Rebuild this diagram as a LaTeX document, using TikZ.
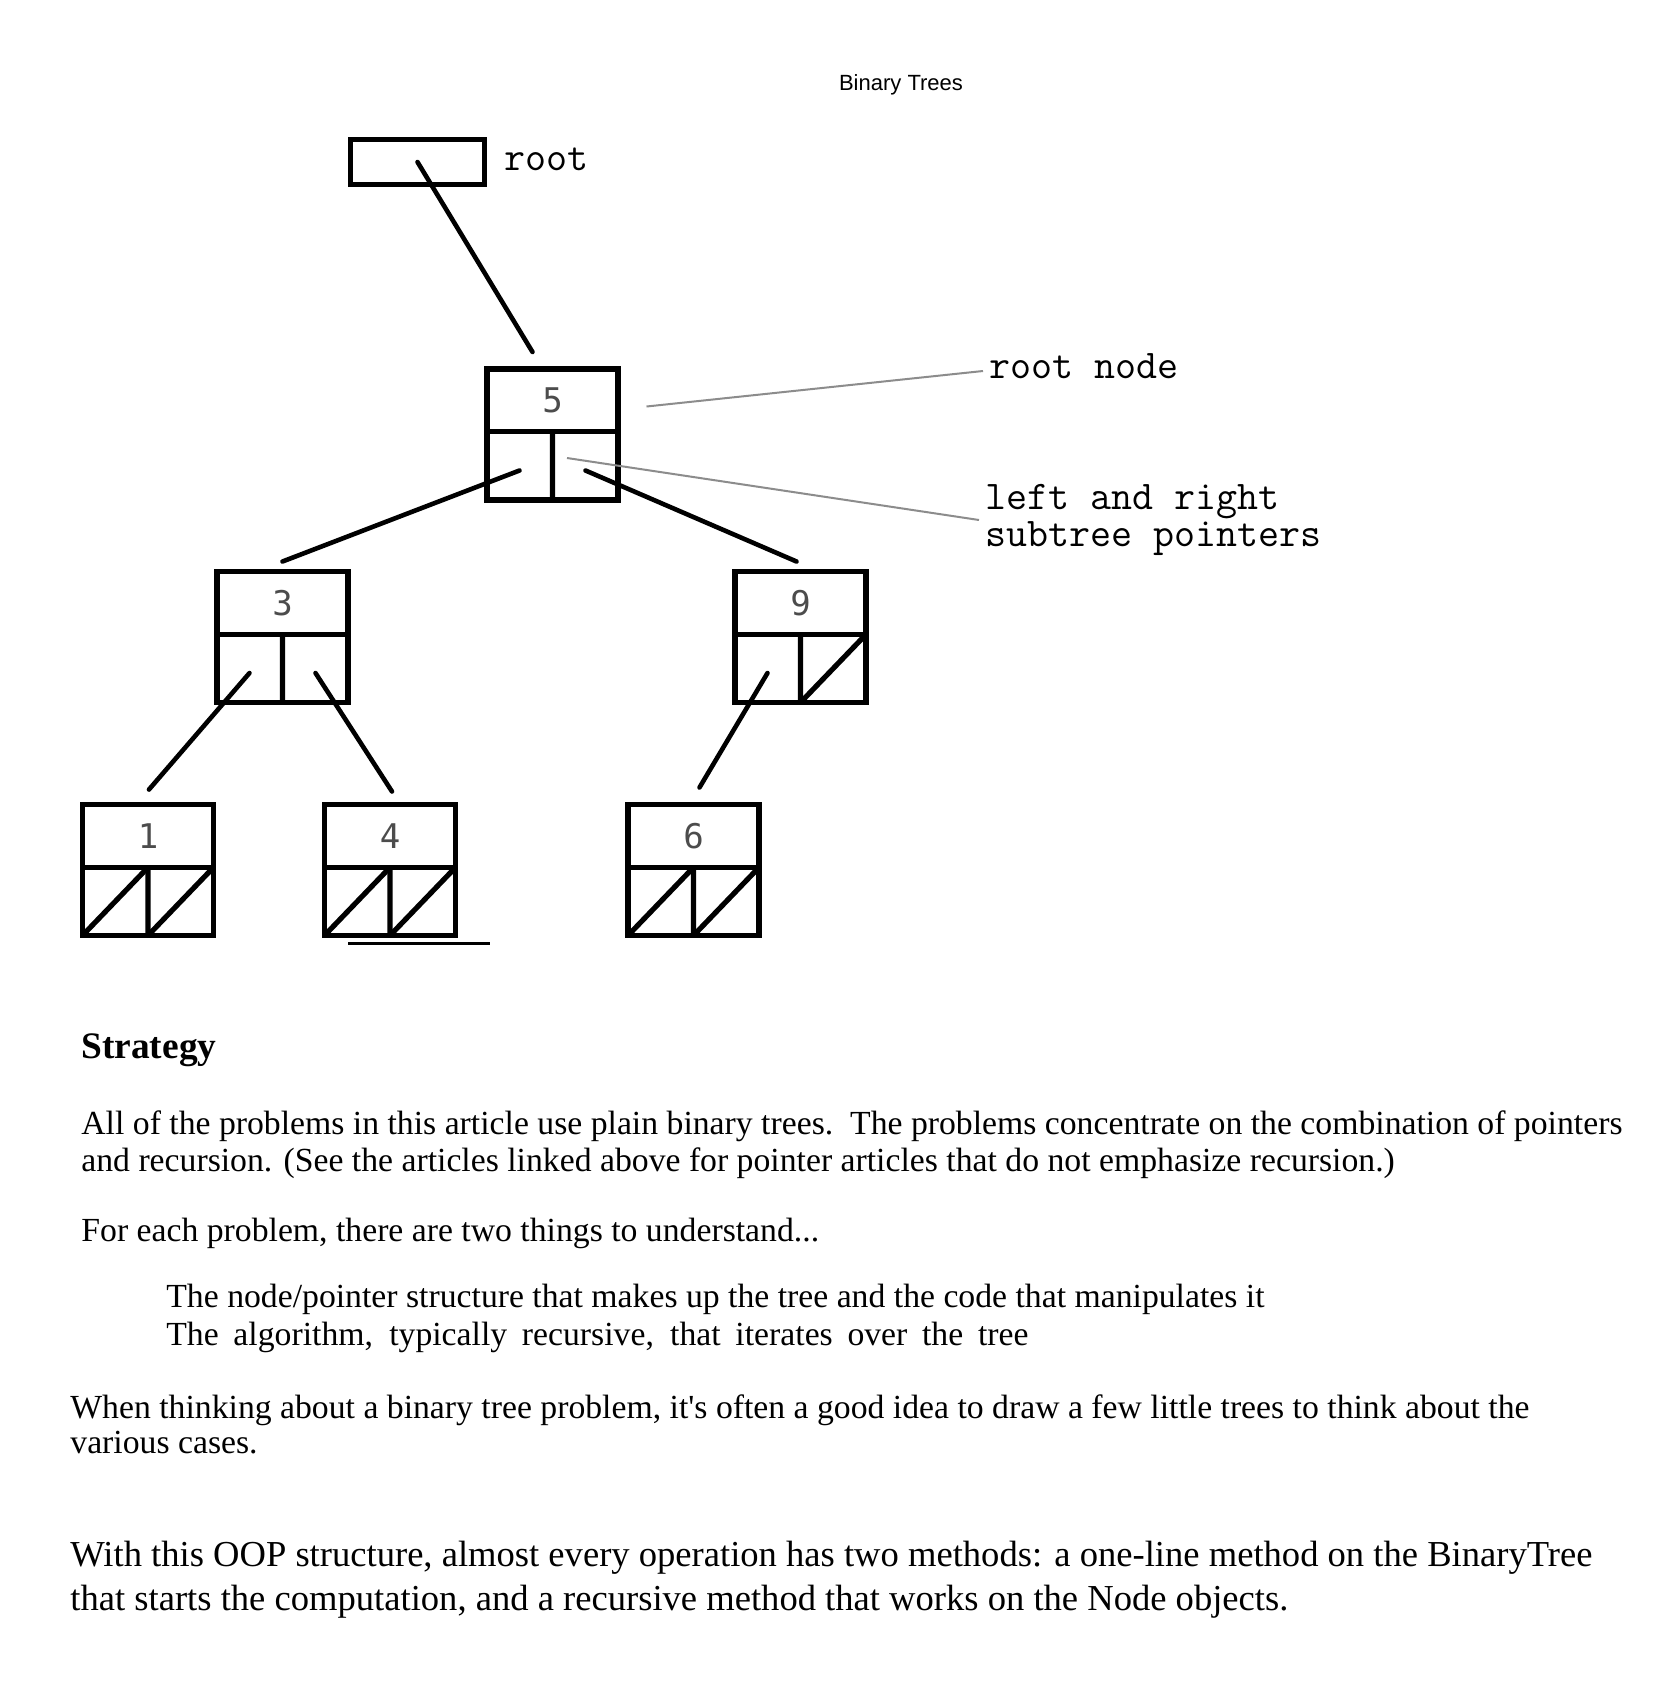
\documentclass[tikz,border=0pt]{standalone}
\usepackage[T1]{fontenc}
\usepackage{fontspec}
\newfontfamily\headfont{Liberation Sans}
\newfontfamily\digitfont{DejaVu Sans Mono}
\IfFileExists{pplr8t.tfm}
  {\newcommand{\palfont}{\fontencoding{T1}\fontfamily{ppl}\selectfont}}
  {\newfontfamily\palfont{Liberation Serif}}
\usetikzlibrary{positioning,calc}

% tree node: name, position, value
\newcommand{\bnode}[3]{%
  \node[cellbox] (#1) at (#2) {};
  \draw[divider] ($(#1.north west)!0.48!(#1.south west)$) coordinate (#1-w)
    -- ($(#1.north east)!0.48!(#1.south east)$) coordinate (#1-e);
  \draw[divider] ($(#1-w)!0.5!(#1-e)$) coordinate (#1-m) -- (#1.south);
  \node[digit] (#1-v) at ($(#1.north)!0.5!(#1-m)$) {#3};
  \coordinate (#1-l) at ([shift={(-33,36)}]#1.center);
  \coordinate (#1-r) at ([shift={(33,36)}]#1.center);
}
% empty subtree slashes
\newcommand{\nulleft}[1]{\draw[divider] (#1.south west) -- (#1-m);}
\newcommand{\nulright}[1]{\draw[divider] (#1.south) -- (#1-e);}

\newcommand{\lineA}{All of the problems in this article use plain binary trees.\ \ The problems concentrate on the combination of pointers}
\newcommand{\lineB}{With this OOP structure, almost every operation has two methods: a one-line method on the BinaryTree}

% font sizes from the printed line widths
\newsavebox{\probe}
\newcommand{\fitsize}[4]{% macro, font, text, target width (pt x 10)
  \sbox{\probe}{#2\fontsize{10pt}{12pt}\selectfont #3}%
  \pgfmathsetmacro{\tmpsize}{#4/\wd\probe}%
  \xdef#1{\tmpsize}}
\AtBeginDocument{%
  \fitsize{\bodysize}{\palfont}{\lineA}{7705}%
  \fitsize{\bigsize}{\palfont}{\lineB}{7610}%
  \fitsize{\headsize}{\palfont\bfseries}{Strategy}{675}}

\begin{document}
\begin{tikzpicture}[
  x=0.5pt, y=-0.5pt,
  cellbox/.style={draw, line width=2.6pt, minimum width=65.5pt,
    minimum height=65.5pt, inner sep=0pt, outer sep=0pt},
  rootbox/.style={draw, line width=2.6pt, minimum width=67pt,
    minimum height=22.5pt, inner sep=0pt, outer sep=0pt},
  divider/.style={line width=2.6pt},
  link/.style={line width=2.3pt, line cap=round},
  leader/.style={black!45, line width=1pt},
  digit/.style={font=\digitfont\fontsize{17pt}{17pt}\selectfont,
    text=black!70, inner sep=0pt},
  mono/.style={font=\ttfamily\fontsize{20.4pt}{18.6pt}\selectfont,
    inner sep=0pt, inner xsep=3pt},
  body/.style={font=\palfont\fontsize{\bodysize}{\bodysize}\selectfont,
    anchor=base west, inner sep=0pt},
  big/.style={font=\palfont\fontsize{\bigsize}{\bigsize}\selectfont,
    anchor=base west, inner sep=0pt},
  head/.style={font=\palfont\bfseries\fontsize{\headsize}{\headsize}\selectfont,
    anchor=base west, inner sep=0pt},
]
\fill[white] (0,0) rectangle (1664,1688);
\useasboundingbox (0,0) rectangle (1664,1688);

\node[font=\headfont\fontsize{11pt}{13pt}\selectfont] (title) at (901,85) {Binary Trees};

%% --- tree ----------------------------------------------------------
\node[rootbox] (root) at (417.5,162) {};
\node[mono, anchor=base west] (rootlbl) at (498,170) {root};

\bnode{n5}{552.5,434.5}{5}
\bnode{n3}{282.5,637}{3}
\bnode{n9}{800.5,637}{9}
\bnode{n1}{148,870}{1}
\bnode{n4}{390,870}{4}
\bnode{n6}{693.5,870}{6}

\nulright{n9}
\nulleft{n1} \nulright{n1}
\nulleft{n4} \nulright{n4}
\nulleft{n6} \nulright{n6}

\draw[link] (root.center) -- ([shift={(-20,-17)}]n5.north);
\draw[link] (n5-l) -- ([shift={(0,-10)}]n3.north);
\draw[link] (n5-r) -- ([shift={(-4,-10)}]n9.north);
\draw[link] (n3-l) -- ([shift={(1,-15)}]n1.north);
\draw[link] (n3-r) -- ([shift={(2,-13)}]n4.north);
\draw[link] (n9-l) -- ([shift={(6,-17)}]n6.north);

\draw[line width=1.5pt] ([shift={(-42,73)}]n4.center) -- ++(142,0);

%% --- labels --------------------------------------------------------
\node[mono, anchor=base west] (nodelbl) at (983,378) {root node};
\node[mono, anchor=west, align=left] (ptrlbl) at (979,520)
  {left and right\\subtree pointers};

\coordinate (n5-top) at ([shift={(94,-28)}]n5.center);
\coordinate (n5-ptr) at ([shift={(14.5,23.5)}]n5.center);
\draw[leader] (n5-top) -- ([yshift=3.5pt]nodelbl.base west);
\draw[leader] (n5-ptr) -- (ptrlbl.west);

%% --- text ----------------------------------------------------------
\node[head] (strat) at (81,1058) {Strategy};
\node[body] (p1a) at (81,1134) {\lineA};
\node[body] (p1b) at (81,1171) {and recursion. (See the articles linked above for pointer articles that do not emphasize recursion.)};
\node[body] (p2) at (81,1241) {For each problem, there are two things to understand...};
\node[body] (p3a) at (166,1307) {The node/pointer structure that makes up the tree and the code that manipulates it};
\node[body] (p3b) at (166,1345) {\makebox[431pt][s]{The algorithm, typically recursive, that iterates over the tree}};
\node[body] (p4a) at (70,1418) {When thinking about a binary tree problem, it's often a good idea to draw a few little trees to think about the};
\node[body] (p4b) at (70,1453) {various cases.};
\node[big] (p5a) at (70,1566) {\lineB};
\node[big] (p5b) at (70,1610) {that starts the computation, and a recursive method that works on the Node objects.};
\end{tikzpicture}
\end{document}
